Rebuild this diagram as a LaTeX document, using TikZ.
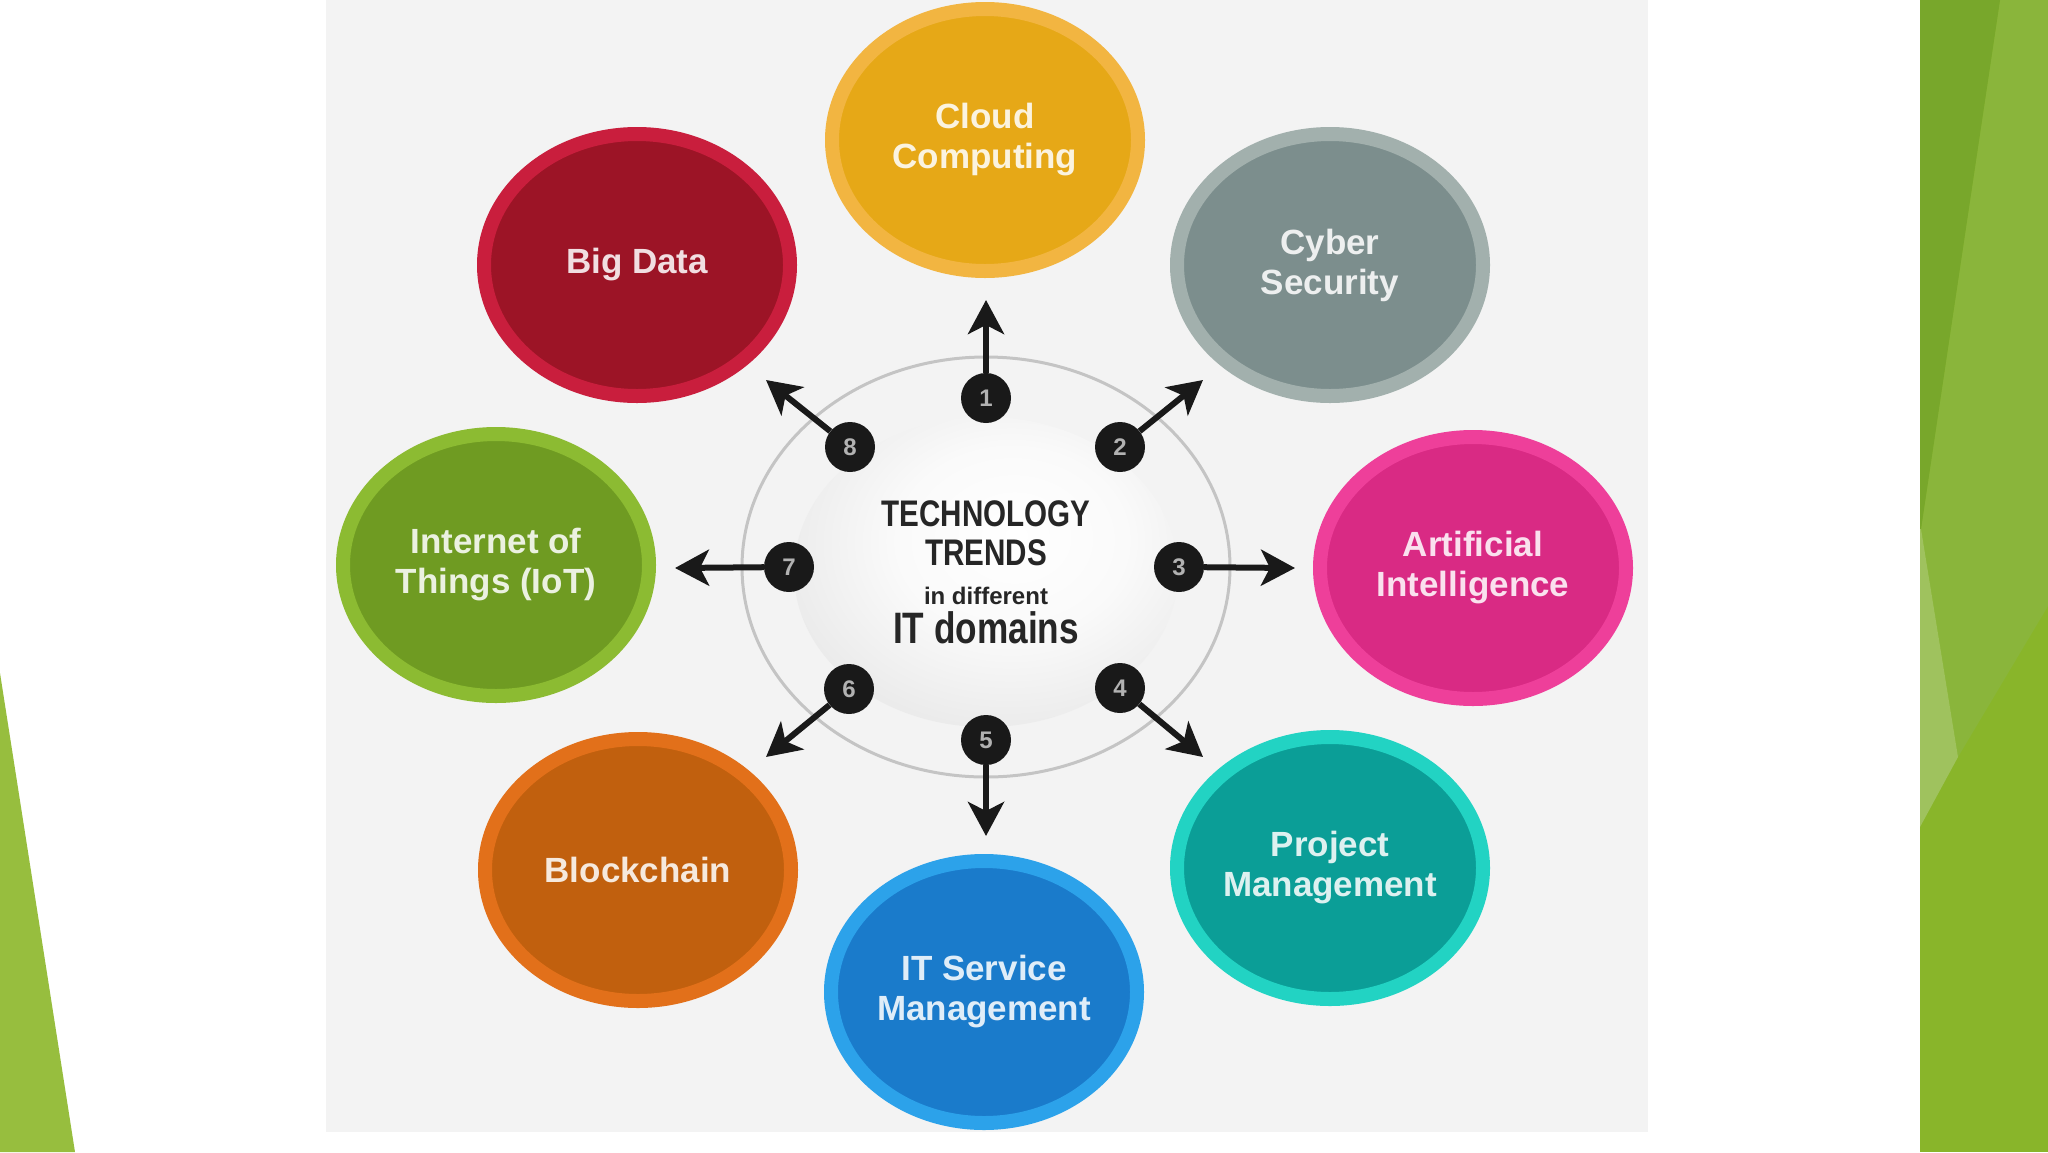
\documentclass[tikz,border=0pt]{standalone}
\usepackage{fontspec}
\usepackage{tikz}
\usetikzlibrary{arrows.meta, shapes.geometric}
\usepackage{xcolor}
\newfontfamily\domfont{Liberation Sans}
\newfontfamily\trendfont[FakeStretch=0.8]{Liberation Sans}
\definecolor{panelgray}{HTML}{F3F3F3}
\definecolor{ringgray}{HTML}{C4C4C4}
\definecolor{leafgreen}{HTML}{97BE3E}
\definecolor{banddark}{HTML}{78A72B}
\definecolor{bandmid}{HTML}{8AB53B}
\definecolor{bandlow}{HTML}{89B52A}
\definecolor{bandlight}{HTML}{9FC25E}
\definecolor{cloudring}{HTML}{F2B541}
\definecolor{cloudfill}{HTML}{E6A817}
\definecolor{cyberring}{HTML}{A2B0AD}
\definecolor{cyberfill}{HTML}{7C8E8D}
\definecolor{airing}{HTML}{EE3F9A}
\definecolor{aifill}{HTML}{D92A84}
\definecolor{projring}{HTML}{22D3C3}
\definecolor{projfill}{HTML}{0B9E97}
\definecolor{itsmring}{HTML}{2CA2EA}
\definecolor{itsmfill}{HTML}{1A7BCB}
\definecolor{blockring}{HTML}{E2701A}
\definecolor{blockfill}{HTML}{C1600E}
\definecolor{iotring}{HTML}{8CBB32}
\definecolor{iotfill}{HTML}{6F9B22}
\definecolor{bigring}{HTML}{C91E3D}
\definecolor{bigfill}{HTML}{9C1426}
\pgfdeclareradialshading{spheregray}{\pgfpoint{4bp}{6bp}}{color(0bp)=(white); color(15bp)=(gray!4); color(30bp)=(gray!16); color(42bp)=(gray!34); color(50bp)=(gray!58); color(100bp)=(gray!58)}
\tikzset{
    % Domain bubbles
    dombox/.style 2 args={ellipse, draw=#1, fill=#2, line width=14pt,
                minimum width=306pt, minimum height=262pt, inner sep=0pt,
                align=center, text=white!86!#2,
                font=\domfont\bfseries\fontsize{35}{40}\selectfont},
    % Centre sphere and ring
    core/.style={ellipse, shade, shading=spheregray, minimum width=384pt,
                minimum height=310pt, inner sep=0pt, align=center, text=black!85,
                font=\trendfont\bfseries\fontsize{37}{39}\selectfont},
    halo/.style={ellipse, draw=ringgray, line width=3pt,
                minimum width=488pt, minimum height=420pt},
    % Numbered badges
    badge/.style={circle, fill=black!90, minimum size=50pt, inner sep=0pt,
                text=gray!60, font=\domfont\bfseries\fontsize{24}{24}\selectfont},
    tarrow/.style={-{Stealth[length=34pt, width=36pt, inset=9pt]}, line width=6pt, black!90},
}
\begin{document}
\begin{tikzpicture}[x=1pt, y=-1pt]
\useasboundingbox (0,0) rectangle (2048,1152);
\fill[white] (0,0) rectangle (2048,1152);

% Slide decoration
\fill[leafgreen] (0,673) -- (75,1152) -- (0,1152) -- cycle;
\fill[bandlow] (1920,0) rectangle (2048,1152);
\fill[bandmid] (2000,0) -- (2048,0) -- (2048,606) -- (1958,757) -- (1921,529) -- cycle;
\fill[banddark] (1920,0) -- (2000,0) -- (1921,529) -- (1920,529) -- cycle;
\fill[bandlight] (1920,529) -- (1921,529) -- (1958,757) -- (1920,827) -- cycle;

% Panel
\fill[panelgray] (326,0) rectangle (1648,1132);

% Ring
\node[halo] (ring) at (986,567) {};

% Domains
\node[dombox={cloudring}{cloudfill}] (cloud) at (985,140) {Cloud\\Computing};
\node[dombox={cyberring}{cyberfill}] (cyber) at (1330,265) {Cyber\\Security};
\node[dombox={airing}{aifill}] (ai) at (1473,568) {Artificial\\Intelligence};
\node[dombox={projring}{projfill}] (proj) at (1330,868) {Project\\Management};
\node[dombox={itsmring}{itsmfill}] (itsm) at (984,992) {IT Service\\Management};
\node[dombox={blockring}{blockfill}] (block) at (638,870) {Blockchain};
\node[dombox={iotring}{iotfill}] (iot) at (496,565) {Internet of\\Things (IoT)};
\node[dombox={bigring}{bigfill}] (bigdata) at (637,265) {Big Data};

% Centre
\node[core] (trends) at (986,572) {TECHNOLOGY\\TRENDS\\{\domfont\bfseries\fontsize{24}{39}\selectfont in different}\\{\fontsize{44}{39}\selectfont IT domains}};

% Badges
\node[badge] (b1) at (986,398) {1};
\node[badge] (b2) at (1120,447) {2};
\node[badge] (b3) at (1179,567) {3};
\node[badge] (b4) at (1120,688) {4};
\node[badge] (b5) at (986,740) {5};
\node[badge] (b6) at (849,689) {6};
\node[badge] (b7) at (789,567) {7};
\node[badge] (b8) at (850,447) {8};

% Arrow tips
\coordinate (t1) at (986,300);
\coordinate (t2) at (1203,380);
\coordinate (t3) at (1295,568);
\coordinate (t4) at (1203,757);
\coordinate (t5) at (986,836);
\coordinate (t6) at (766,757);
\coordinate (t7) at (675,568);
\coordinate (t8) at (766,380);

% Arrows
\draw[tarrow] (b1) -- (t1);
\draw[tarrow] (b2) -- (t2);
\draw[tarrow] (b3) -- (t3);
\draw[tarrow] (b4) -- (t4);
\draw[tarrow] (b5) -- (t5);
\draw[tarrow] (b6) -- (t6);
\draw[tarrow] (b7) -- (t7);
\draw[tarrow] (b8) -- (t8);

\end{tikzpicture}
\end{document}
